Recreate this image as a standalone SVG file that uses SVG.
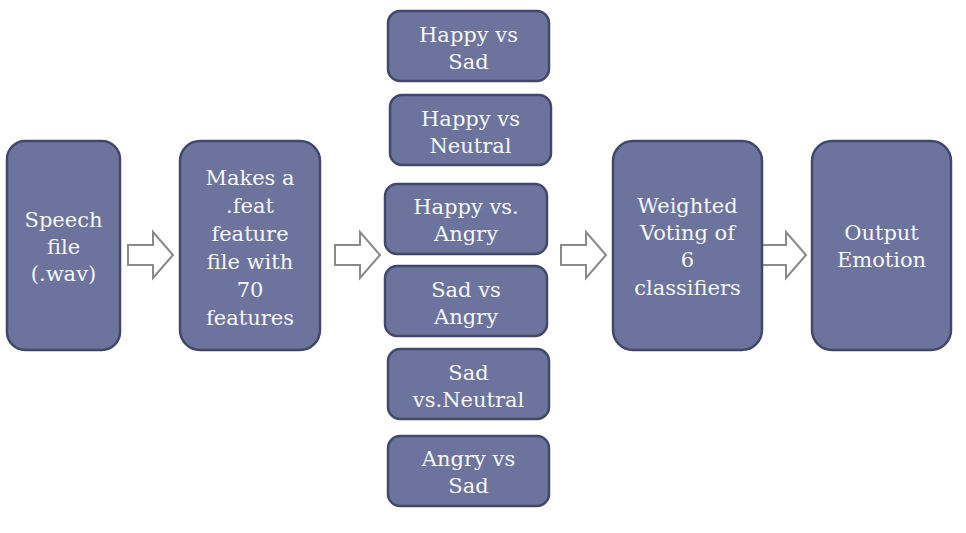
<svg xmlns="http://www.w3.org/2000/svg" width="966" height="533" viewBox="0 0 966 533">
<style>
.box{fill:#6c749e;stroke:#41486a;stroke-width:2.5}
.t{font-family:"DejaVu Serif","Liberation Serif",serif;font-size:21px;fill:#f7f7f7;text-anchor:middle}
.arr{fill:#ffffff;stroke:#8a8a8a;stroke-width:2;stroke-linejoin:miter}
</style>
<rect width="966" height="533" fill="#ffffff"/>
<g id="connectors">
<path class="arr" d="M128,245 H153 V232 L173,255 L153,278 V265 H128 Z"/>
<path class="arr" d="M335,245 H360 V232 L380,255 L360,278 V265 H335 Z"/>
<path class="arr" d="M561,245 H586 V232 L606,255 L586,278 V265 H561 Z"/>
<path class="arr" d="M762,245 H786 V232 L806,255 L786,278 V265 H762 Z"/>
</g>
<g id="speech">
<rect class="box" x="7" y="141" width="113" height="209" rx="18"/>
<text class="t" x="63.5" y="227">Speech</text>
<text class="t" x="63.5" y="254">file</text>
<text class="t" x="63.5" y="281">(.wav)</text>
</g>
<g id="feat">
<rect class="box" x="180" y="141" width="140" height="209" rx="20"/>
<text class="t" x="250" y="185">Makes a</text>
<text class="t" x="250" y="213">.feat</text>
<text class="t" x="250" y="241">feature</text>
<text class="t" x="250" y="269">file with</text>
<text class="t" x="250" y="297">70</text>
<text class="t" x="250" y="325">features</text>
</g>
<g id="c1">
<rect class="box" x="388" y="11" width="161" height="70" rx="12"/>
<text class="t" x="468.5" y="42">Happy vs</text>
<text class="t" x="468.5" y="69">Sad</text>
</g>
<g id="c2">
<rect class="box" x="390" y="95" width="161" height="70" rx="12"/>
<text class="t" x="470.5" y="126">Happy vs</text>
<text class="t" x="470.5" y="153">Neutral</text>
</g>
<g id="c3">
<rect class="box" x="385" y="184" width="162" height="70" rx="12"/>
<text class="t" x="466" y="214">Happy vs.</text>
<text class="t" x="466" y="241">Angry</text>
</g>
<g id="c4">
<rect class="box" x="385" y="266" width="162" height="70" rx="12"/>
<text class="t" x="466" y="297">Sad vs</text>
<text class="t" x="466" y="324">Angry</text>
</g>
<g id="c5">
<rect class="box" x="388" y="349" width="161" height="70" rx="12"/>
<text class="t" x="468.5" y="380">Sad</text>
<text class="t" x="468.5" y="407">vs.Neutral</text>
</g>
<g id="c6">
<rect class="box" x="388" y="436" width="161" height="70" rx="12"/>
<text class="t" x="468.5" y="466">Angry vs</text>
<text class="t" x="468.5" y="493">Sad</text>
</g>
<g id="voting">
<rect class="box" x="613" y="141" width="149" height="209" rx="20"/>
<text class="t" x="687.5" y="213">Weighted</text>
<text class="t" x="687.5" y="240">Voting of</text>
<text class="t" x="687.5" y="267">6</text>
<text class="t" x="687.5" y="295">classifiers</text>
</g>
<g id="output">
<rect class="box" x="812" y="141" width="139" height="209" rx="20"/>
<text class="t" x="881.5" y="240">Output</text>
<text class="t" x="881.5" y="267">Emotion</text>
</g>
</svg>
